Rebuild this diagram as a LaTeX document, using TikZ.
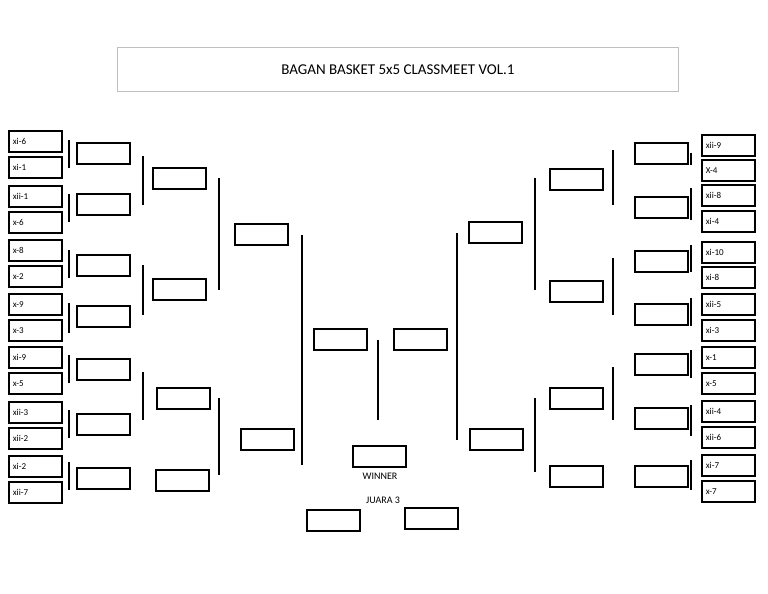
\documentclass[tikz,border=0pt]{standalone}
\usepackage{fontspec}
\setmainfont{Carlito}
\begin{document}
\begin{tikzpicture}[x=1pt,y=-1pt,
  bx/.style={draw,line width=1.6pt,minimum width=53pt,minimum height=21pt,anchor=north west,inner sep=0pt},
  tm/.style={bx,font=\fontsize{9}{9}\selectfont,text width=45pt,align=left},
  br/.style={line width=1.6pt}]
\useasboundingbox (0,0) rectangle (768,594);
\node[draw=black!25,line width=0.8pt,minimum width=561pt,minimum height=44pt,anchor=north west,font=\fontsize{15}{15}\selectfont] (title) at (117,47) {BAGAN BASKET 5x5 CLASSMEET VOL.1};
% left teams
\foreach \t/\y [count=\i] in {xi-6/130,xi-1/156,xii-1/185,x-6/211,x-8/239,x-2/265,x-9/293,x-3/319,xi-9/346,x-5/372,xii-3/401,xii-2/427,xi-2/455,xii-7/481}
  \node[tm] (L\i) at (8,\y) {\t};
\foreach \y [count=\i] in {142,193,254,305,358,413,467} \node[bx] (LA\i) at (76,\y) {};
\foreach \x/\y [count=\i] in {152/167,152/278,156/387,155/469} \node[bx] (LB\i) at (\x,\y) {};
\node[bx] (LC1) at (234,223) {};
\node[bx] (LC2) at (240,428) {};
\node[bx] (LD) at (313,328) {};
\foreach \a/\b in {140/168,194/222,250/278,303/333,355/383,410/438,462/490} \draw[br] (69,\a) -- (69,\b);
\foreach \a/\b in {156/205,265/315,372/420} \draw[br] (143,\a) -- (143,\b);
\foreach \a/\b in {178/290,398/475} \draw[br] (219,\a) -- (219,\b);
\draw[br] (302,235) -- (302,465);
% right
\foreach \t/\y [count=\i] in {xii-9/134,X-4/159,xii-8/184,xi-4/210,xi-10/241,xi-8/266,xii-5/293,xi-3/319,x-1/346,x-5/372,xii-4/400,xii-6/426,xi-7/454,x-7/480}
  \node[tm] (R\i) at (701,\y) {\t};
\foreach \y [count=\i] in {142,196,250,303,353,407,465} \node[bx] (RA\i) at (634,\y) {};
\foreach \y [count=\i] in {168,280,387,465} \node[bx] (RB\i) at (549,\y) {};
\node[bx] (RC1) at (468,221) {};
\node[bx] (RC2) at (469,428) {};
\node[bx] (RD) at (393,328) {};
\foreach \a/\b in {153/165,188/220,245/272,298/326,350/378,405/436,460/490} \draw[br] (691,\a) -- (691,\b);
\foreach \a/\b in {150/205,258/315,367/420} \draw[br] (613,\a) -- (613,\b);
\foreach \a/\b in {178/290,398/472} \draw[br] (535,\a) -- (535,\b);
\draw[br] (457,233) -- (457,440);
% centre
\draw[br] (378,340) -- (378,420);
\node[bx] (W) at (352,445) {};
\node[font=\fontsize{10}{10}\selectfont] (wl) at (380,476) {WINNER};
\node[font=\fontsize{10}{10}\selectfont] (jl) at (383,500) {JUARA 3};
\node[bx] (J1) at (306,509) {};
\node[bx] (J2) at (404,507) {};
\end{tikzpicture}
\end{document}
